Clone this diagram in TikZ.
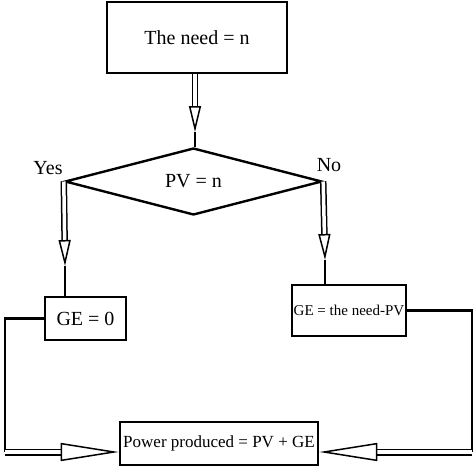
\documentclass[tikz,border=0pt]{standalone}
\usepackage{fontspec}
\setmainfont{Liberation Serif}
\usetikzlibrary{shapes.geometric,arrows.meta}
\begin{document}
\begin{tikzpicture}[x=1pt,y=-1pt,
  box/.style={draw,line width=2.6pt,inner sep=0pt,font=\fontsize{20}{23}\selectfont},
  conn/.style={line width=2.4pt},
  solid tail/.style={line width=2.6pt},
  dbl/.style={draw,line width=1.5pt,double=white,double distance=3.5pt,
    -{Triangle[open,length=26pt,width=12pt,line width=1.5pt]}},
  dblh/.style={draw,line width=1.5pt,double=white,double distance=4pt,
    -{Triangle[open,length=58pt,width=18pt,line width=1.5pt]}},
  lbl/.style={font=\fontsize{20}{23}\selectfont,inner sep=0pt}]
\useasboundingbox (0,0) rectangle (474,469);
\node[box,minimum width=180pt,minimum height=71pt] (need) at (197,37.5) {The need = n};
\node[box,diamond,aspect=3.84,minimum width=257pt,minimum height=67pt,line width=2.4pt] (dec) at (193.5,181.5) {PV = n};
\node[box,minimum width=81pt,minimum height=43pt] (ge0) at (85.5,318.5) {GE = 0};
\node[box,minimum width=114pt,minimum height=51pt,font=\fontsize{15}{18}\selectfont] (gep) at (349,310.5) {GE = the need-PV};
\node[box,minimum width=198pt,minimum height=43pt,font=\fontsize{17}{20}\selectfont] (pow) at (219,443.5) {Power produced = PV + GE};
\node[lbl] (yes) at (48,168) {Yes};
\node[lbl] (no) at (329,165) {No};
\coordinate (t1) at (195,132);
\coordinate (t2) at (65,266);
\coordinate (t3) at (325,260);
\coordinate (lc) at (5,452);
\coordinate (rc) at (472,452);
\path[dbl] (need.south -| t1) -- (t1);
\draw[solid tail] (t1) -- (t1 |- dec.north);
\path[dbl] (dec.west) -- (t2);
\draw[solid tail] (t2) -- (t2 |- ge0.north);
\path[dbl] (dec.east) -- (t3);
\draw[solid tail] (t3) -- (t3 |- gep.north);
\draw[conn] (ge0.west) -| (lc);
\draw[conn] (gep.east) -| (rc);
\path[dblh] (lc) -- (pow.west |- lc);
\path[dblh] (rc) -- (pow.east |- rc);
\end{tikzpicture}
\end{document}
